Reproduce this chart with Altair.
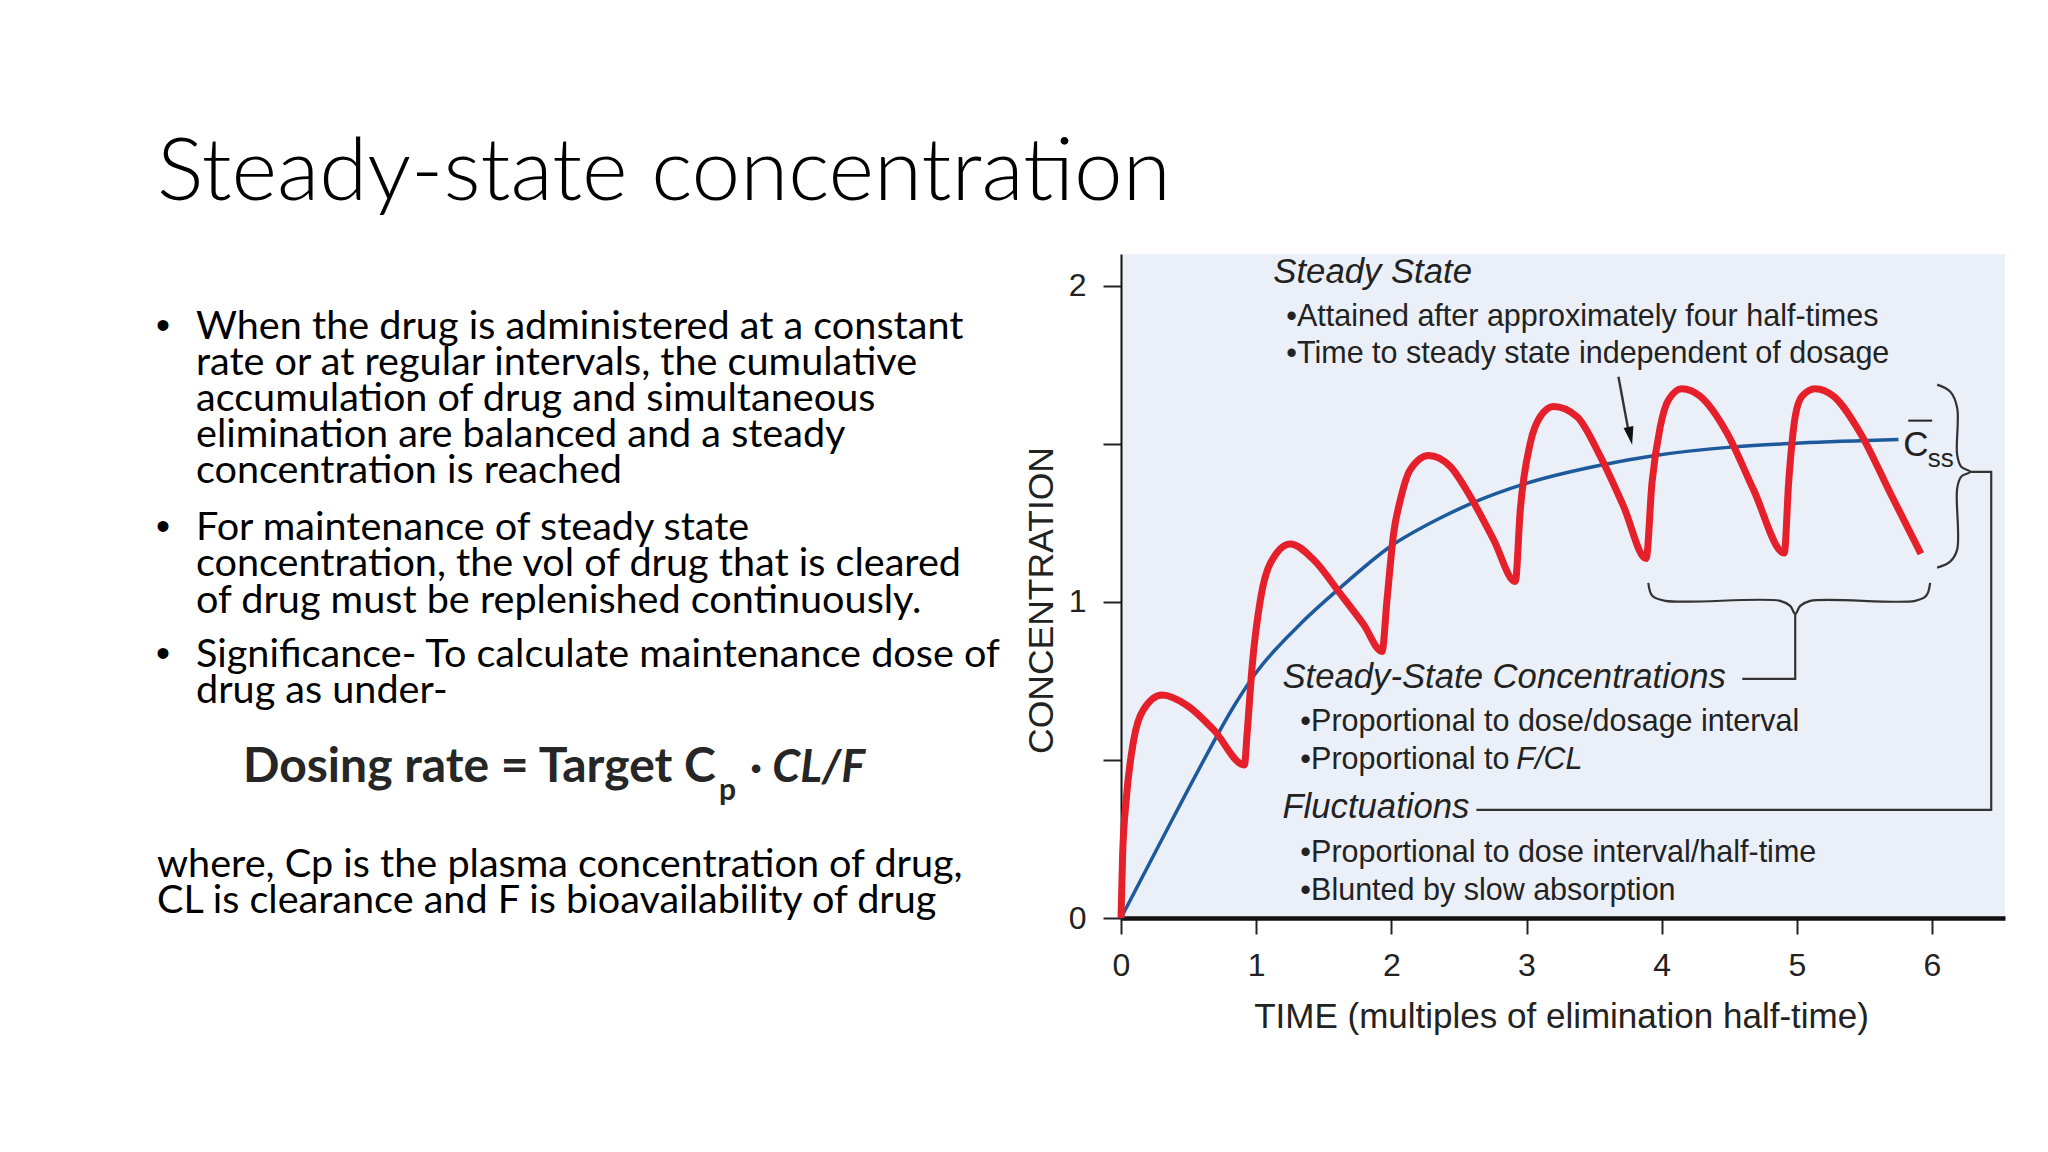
import altair as alt
import pandas as pd

# ---------------- data ----------------
# red curve: concentration under repeated dosing (time in half-lives)
red_x = [0.000, 0.012, 0.040, 0.094, 0.165, 0.304, 0.489, 0.686, 0.913,
         0.933, 0.970, 1.031, 1.105, 1.253, 1.425, 1.623, 1.795, 1.931,
         1.968, 2.017, 2.067, 2.140, 2.276, 2.436, 2.584, 2.757, 2.917,
         2.954, 3.028, 3.102, 3.200, 3.373, 3.546, 3.718, 3.885,
         3.928, 3.990, 4.051, 4.150, 4.285, 4.483, 4.680, 4.907,
         4.939, 4.988, 5.038, 5.136, 5.272, 5.469, 5.691, 5.918]
red_y = [0.000, 0.200, 0.380, 0.563, 0.658, 0.705, 0.672, 0.595, 0.484,
         0.584, 0.795, 1.006, 1.122, 1.183, 1.133, 1.025, 0.928, 0.843,
         1.006, 1.217, 1.323, 1.418, 1.463, 1.428, 1.333, 1.196, 1.064,
         1.291, 1.502, 1.586, 1.618, 1.586, 1.460, 1.302, 1.137,
         1.375, 1.555, 1.639, 1.674, 1.650, 1.534, 1.354, 1.154,
         1.375, 1.586, 1.650, 1.674, 1.650, 1.534, 1.344, 1.152]

# blue curve: mean concentration approaching Css
blue_x = [0.000, 0.341, 0.587, 0.834, 0.996, 1.327, 1.623, 1.993, 2.362,
          2.597, 2.979, 3.546, 3.940, 4.532, 5.025, 5.752]
blue_y = [0.000, 0.280, 0.479, 0.669, 0.774, 0.930, 1.045, 1.175, 1.265,
          1.312, 1.372, 1.432, 1.462, 1.490, 1.502, 1.513]

x_ticks = [0, 1, 2, 3, 4, 5, 6]
y_ticks = [0, 0.5, 1, 1.5, 2]
x_domain = [0, 6.54]
y_domain = [0, 2.1]

# annotation texts inside the chart (data coordinates)
head_text = ["Steady State", "Steady-State Concentrations", "Fluctuations"]
head_x = [1.127, 1.194, 1.194]
head_y = [2.041, 0.759, 0.348]

bullet_text = ["•Attained after approximately four half-times",
               "•Time to steady state independent of dosage",
               "•Proportional to dose/dosage interval",
               "•Proportional to ",
               "•Proportional to dose interval/half-time",
               "•Blunted by slow absorption"]
bullet_x = [1.223, 1.223, 1.327, 1.327, 1.327, 1.327]
bullet_y = [1.902, 1.785, 0.620, 0.500, 0.206, 0.085]

fcl_text = ["F/CL"]
fcl_x = [2.925]
fcl_y = [0.500]

css_c = ["C"]
css_c_x = [5.787]
css_c_y = [1.497]
css_sub = ["ss"]
css_sub_x = [5.968]
css_sub_y = [1.452]
css_bar_x = [5.824]
css_bar_x2 = [6.001]
css_bar_y = [1.573]

# braces and connector lines (data coordinates)
vbrace_x = [6.038, 6.134, 6.186, 6.186, 6.216, 6.283, 6.216, 6.186, 6.186, 6.134, 6.038]
vbrace_y = [1.687, 1.665, 1.614, 1.465, 1.427, 1.411, 1.396, 1.358, 1.165, 1.127, 1.108]
hbrace_x = [3.901, 3.931, 4.027, 4.877, 4.951, 4.988, 5.025, 5.099, 5.875, 5.957, 5.986]
hbrace_y = [1.060, 1.019, 1.003, 1.003, 0.987, 0.962, 0.987, 1.003, 1.003, 1.019, 1.060]
conn1_x = [6.283, 6.438, 6.438, 2.629]
conn1_y = [1.411, 1.411, 0.342, 0.342]
conn2_x = [4.988, 4.988, 4.596]
conn2_y = [0.962, 0.756, 0.756]
arrow_x = [3.680, 3.753]
arrow_y = [1.712, 1.544]
arrowhead_x = [3.768]
arrowhead_y = [1.525]

# slide texts
slide_title = "Steady-state concentration"
body_lines = [
    "When the drug is administered at a constant",
    "rate or at regular intervals, the cumulative",
    "accumulation of drug and simultaneous",
    "elimination are balanced and a steady",
    "concentration is reached",
    "For maintenance of steady state",
    "concentration, the vol of drug that is cleared",
    "of drug must be replenished continuously.",
    "Significance- To calculate maintenance dose of",
    "drug as under-",
]
body_bullet = [True, False, False, False, False, True, False, False, True, False]
formula_main = "Dosing rate = Target C"
formula_sub = "p"
formula_rest = "· CL/F"
note_lines = ["where, Cp is the plasma concentration of drug,",
              "CL is clearance and F is bioavailability of drug"]

# ---------------- layout constants ----------------
W, H = 884, 664
OX, OY = 1121, 254
FONT = "Liberation Sans"
SLIDE_FONT = "Lato"
INK = "#222222"

xs = alt.Scale(domain=x_domain, nice=False, zero=False)
ys = alt.Scale(domain=y_domain, nice=False, zero=False)

x_axis = alt.Axis(values=x_ticks, title="TIME (multiples of elimination half-time)",
                  labelFont=FONT, labelFontSize=32, labelColor=INK, labelPadding=16,
                  labelFlush=False, labelExpr="format(datum.value, 'd')",
                  tickSize=16, tickWidth=2, tickColor=INK,
                  domainColor="#111111", domainWidth=4.5, grid=False,
                  titleFont=FONT, titleFontSize=35, titleFontWeight="normal",
                  titleColor=INK, titleX=440, titleY=98, titleBaseline="middle",
                  titleAlign="center")
y_axis = alt.Axis(values=y_ticks, title="CONCENTRATION",
                  labelFont=FONT, labelFontSize=32, labelColor=INK, labelPadding=17,
                  labelFlush=False,
                  labelExpr="datum.value % 1 == 0 ? format(datum.value, 'd') : ''",
                  tickSize=18, tickWidth=2, tickColor=INK,
                  domainColor="#111111", domainWidth=2, grid=False,
                  titleFont=FONT, titleFontSize=35.5, titleFontWeight="normal",
                  titleColor=INK, titleX=-80, titleY=346, titleAngle=270,
                  titleBaseline="middle", titleAlign="center")


def X(field="x"):
    return alt.X(f"{field}:Q", scale=xs, axis=x_axis)


def Y(field="y"):
    return alt.Y(f"{field}:Q", scale=ys, axis=y_axis)


blue_df = pd.DataFrame({"x": blue_x, "y": blue_y})
red_df = pd.DataFrame({"x": red_x, "y": red_y})

blue = alt.Chart(blue_df).mark_line(color="#1d5a9c", strokeWidth=3.5,
                                    interpolate="monotone").encode(x=X(), y=Y())

red = alt.Chart(red_df).mark_line(color="#e5202a", strokeWidth=7,
                                  interpolate="monotone").encode(x=X(), y=Y())


def path_layer(px, py, interp, width=2.2):
    df = pd.DataFrame({"x": px, "y": py, "i": list(range(len(px)))})
    return alt.Chart(df).mark_line(color="#333333", strokeWidth=width,
                                   interpolate=interp).encode(
        x=X(), y=Y(), order=alt.Order("i:Q"))


vbrace = path_layer(vbrace_x, vbrace_y, "catmull-rom")
hbrace = path_layer(hbrace_x, hbrace_y, "catmull-rom")
conn1 = path_layer(conn1_x, conn1_y, "linear")
conn2 = path_layer(conn2_x, conn2_y, "linear")
arrow = path_layer(arrow_x, arrow_y, "linear", width=2.4)
arrowhead = alt.Chart(pd.DataFrame({"x": arrowhead_x, "y": arrowhead_y})).mark_point(
    shape="M0,1L-0.55,-1L0.55,-1Z", filled=True, size=330, angle=348.4,
    color="#111111", opacity=1, strokeWidth=0).encode(x=X(), y=Y())


def data_text(texts, tx, ty, size, style="normal", align="left"):
    df = pd.DataFrame({"t": texts, "x": tx, "y": ty})
    return alt.Chart(df).mark_text(font=FONT, fontSize=size, fontStyle=style,
                                   color=INK, align=align, baseline="middle").encode(
        x=X(), y=Y(), text="t:N")


heads = data_text(head_text, head_x, head_y, 34.7, style="italic")
bullets = data_text(bullet_text, bullet_x, bullet_y, 30.5)
fcl = data_text(fcl_text, fcl_x, fcl_y, 30.5, style="italic")
cssc = data_text(css_c, css_c_x, css_c_y, 35)
csss = data_text(css_sub, css_sub_x, css_sub_y, 26)
cssbar = alt.Chart(pd.DataFrame({"x": css_bar_x, "x2": css_bar_x2, "y": css_bar_y})).mark_rule(
    color=INK, strokeWidth=2).encode(x=X(), x2="x2:Q", y=Y())


def ptext(txt, px, py, size, font=SLIDE_FONT, weight="normal", style="normal",
          color="#000000", align="left"):
    return alt.Chart(pd.DataFrame({"t": [txt]})).mark_text(
        font=font, fontSize=size, fontWeight=weight, fontStyle=style,
        color=color, align=align, baseline="alphabetic").encode(
        text="t:N", x=alt.value(px - OX), y=alt.value(py - OY))


slide = [ptext(slide_title, 157, 200, 87.3, weight=300)]
body_baselines = [339, 375, 411, 447, 483, 540, 576, 613, 667, 703]
for line, has_b, by in zip(body_lines, body_bullet, body_baselines):
    slide.append(ptext(line, 196, by, 39.6))
    if has_b:
        slide.append(ptext("•", 163, by, 40, font="Liberation Sans", align="center"))
slide.append(ptext(formula_main, 243, 782, 48, weight="bold", color="#262626"))
slide.append(ptext(formula_sub, 719, 800, 30, weight="bold", color="#262626"))
slide.append(ptext(formula_rest, 750, 782, 45, weight="bold", style="italic", color="#262626"))
slide.append(ptext(note_lines[0], 157, 877, 39.6))
slide.append(ptext(note_lines[1], 157, 913, 39.6))

chart = alt.layer(blue, red, vbrace, hbrace, conn1, conn2, arrow, arrowhead,
                  heads, bullets, fcl, cssc, csss, cssbar, *slide).properties(
    width=W, height=H, background="white",
    autosize=alt.AutoSizeParams(type="none"),
    padding={"left": OX, "top": OY, "right": 2048 - OX - W, "bottom": 1152 - OY - H},
).configure_view(fill="#eaeff8", strokeWidth=0)

chart.save("out.html", embed_options={"renderer": "svg", "actions": False})
